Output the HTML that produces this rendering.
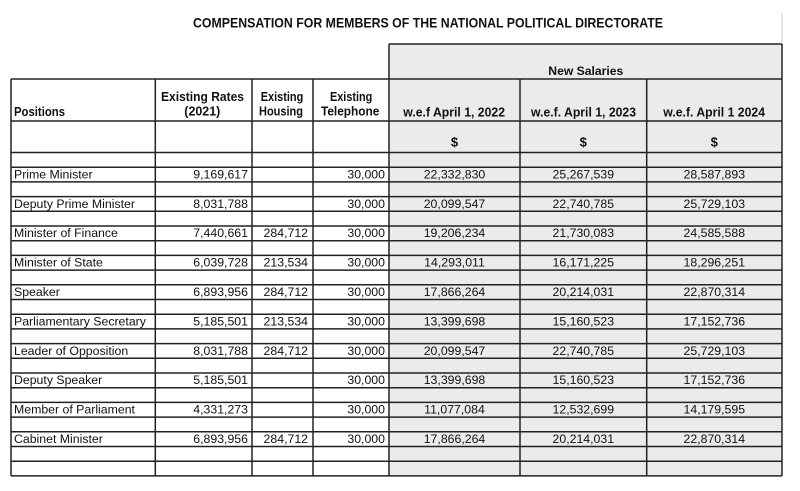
<!DOCTYPE html>
<html>
<head>
<meta charset="utf-8">
<style>
html,body{margin:0;padding:0;background:#fff;}
svg{display:block;}
.t{font-family:"Liberation Sans",Arial,sans-serif;fill:#111;}
.d{font-family:"Liberation Sans",Arial,sans-serif;font-size:12.3px;fill:#111;}
.h{font-family:"Liberation Sans",Arial,sans-serif;font-size:13px;font-weight:bold;fill:#111;}
</style>
</head>
<body>
<svg width="800" height="491" viewBox="0 0 800 491" xmlns="http://www.w3.org/2000/svg">
<rect x="0" y="0" width="800" height="491" fill="#ffffff"/>
<rect x="389" y="44" width="393" height="432" fill="#ebebeb"/>
<line x1="782" y1="13" x2="782" y2="44" stroke="#cfcfcf" stroke-width="1"/>

<text class="t" x="193" y="27.7" font-size="14" font-weight="bold" textLength="470" lengthAdjust="spacingAndGlyphs">COMPENSATION FOR MEMBERS OF THE NATIONAL POLITICAL DIRECTORATE</text>

<g stroke="#222" stroke-width="1.5" fill="none">
<line x1="389" y1="44" x2="782" y2="44"/>
<line x1="11" y1="79" x2="782" y2="79"/>
<line x1="11" y1="121" x2="782" y2="121"/>
<line x1="11" y1="152.5" x2="782" y2="152.5"/>
<line x1="11" y1="167.2" x2="782" y2="167.2"/>
<line x1="11" y1="181.9" x2="782" y2="181.9"/>
<line x1="11" y1="196.6" x2="782" y2="196.6"/>
<line x1="11" y1="211.3" x2="782" y2="211.3"/>
<line x1="11" y1="226" x2="782" y2="226"/>
<line x1="11" y1="240.7" x2="782" y2="240.7"/>
<line x1="11" y1="255.4" x2="782" y2="255.4"/>
<line x1="11" y1="270.1" x2="782" y2="270.1"/>
<line x1="11" y1="284.8" x2="782" y2="284.8"/>
<line x1="11" y1="299.5" x2="782" y2="299.5"/>
<line x1="11" y1="314.2" x2="782" y2="314.2"/>
<line x1="11" y1="328.9" x2="782" y2="328.9"/>
<line x1="11" y1="343.6" x2="782" y2="343.6"/>
<line x1="11" y1="358.3" x2="782" y2="358.3"/>
<line x1="11" y1="373" x2="782" y2="373"/>
<line x1="11" y1="387.7" x2="782" y2="387.7"/>
<line x1="11" y1="402.4" x2="782" y2="402.4"/>
<line x1="11" y1="417.1" x2="782" y2="417.1"/>
<line x1="11" y1="431.8" x2="782" y2="431.8"/>
<line x1="11" y1="446.5" x2="782" y2="446.5"/>
<line x1="11" y1="461.2" x2="782" y2="461.2"/>
<line x1="11" y1="475.9" x2="782" y2="475.9"/>
<line x1="11" y1="79" x2="11" y2="475.9"/>
<line x1="155.3" y1="79" x2="155.3" y2="475.9"/>
<line x1="252" y1="79" x2="252" y2="475.9"/>
<line x1="313" y1="79" x2="313" y2="475.9"/>
<line x1="389" y1="44" x2="389" y2="475.9"/>
<line x1="520" y1="79" x2="520" y2="475.9"/>
<line x1="646.7" y1="79" x2="646.7" y2="475.9"/>
<line x1="782" y1="44" x2="782" y2="475.9"/>
</g>

<text class="h" x="14" y="116" textLength="51" lengthAdjust="spacingAndGlyphs">Positions</text>
<text class="h" x="161" y="100.8" textLength="83" lengthAdjust="spacingAndGlyphs">Existing Rates</text>
<text class="h" x="184.3" y="115.5" textLength="36" lengthAdjust="spacingAndGlyphs">(2021)</text>
<text class="h" x="260.7" y="100.8" textLength="42.6" lengthAdjust="spacingAndGlyphs">Existing</text>
<text class="h" x="259" y="115.5" textLength="44" lengthAdjust="spacingAndGlyphs">Housing</text>
<text class="h" x="330" y="100.8" textLength="42.3" lengthAdjust="spacingAndGlyphs">Existing</text>
<text class="h" x="321" y="115.5" textLength="58.3" lengthAdjust="spacingAndGlyphs">Telephone</text>

<text class="t" x="548.3" y="75" font-size="12.4" font-weight="bold" textLength="75" lengthAdjust="spacingAndGlyphs">New Salaries</text>
<text class="h" x="403.3" y="116.5" textLength="101.7" lengthAdjust="spacingAndGlyphs">w.e.f April 1, 2022</text>
<text class="h" x="531" y="116.5" textLength="105" lengthAdjust="spacingAndGlyphs">w.e.f. April 1, 2023</text>
<text class="h" x="663.3" y="116.5" textLength="101.7" lengthAdjust="spacingAndGlyphs">w.e.f. April 1 2024</text>
<text class="h" x="454.5" y="146.5" text-anchor="middle">$</text>
<text class="h" x="583.3" y="146.5" text-anchor="middle">$</text>
<text class="h" x="714.3" y="146.5" text-anchor="middle">$</text>

<g class="d">
<text x="14" y="178.4">Prime Minister</text>
<text x="248" y="178.4" text-anchor="end">9,169,617</text>
<text x="385" y="178.4" text-anchor="end">30,000</text>
<text x="454.5" y="178.4" text-anchor="middle">22,332,830</text>
<text x="583.3" y="178.4" text-anchor="middle">25,267,539</text>
<text x="714.3" y="178.4" text-anchor="middle">28,587,893</text>

<text x="14" y="207.8">Deputy Prime Minister</text>
<text x="248" y="207.8" text-anchor="end">8,031,788</text>
<text x="385" y="207.8" text-anchor="end">30,000</text>
<text x="454.5" y="207.8" text-anchor="middle">20,099,547</text>
<text x="583.3" y="207.8" text-anchor="middle">22,740,785</text>
<text x="714.3" y="207.8" text-anchor="middle">25,729,103</text>

<text x="14" y="237.2">Minister of Finance</text>
<text x="248" y="237.2" text-anchor="end">7,440,661</text>
<text x="308" y="237.2" text-anchor="end">284,712</text>
<text x="385" y="237.2" text-anchor="end">30,000</text>
<text x="454.5" y="237.2" text-anchor="middle">19,206,234</text>
<text x="583.3" y="237.2" text-anchor="middle">21,730,083</text>
<text x="714.3" y="237.2" text-anchor="middle">24,585,588</text>

<text x="14" y="266.6">Minister of State</text>
<text x="248" y="266.6" text-anchor="end">6,039,728</text>
<text x="308" y="266.6" text-anchor="end">213,534</text>
<text x="385" y="266.6" text-anchor="end">30,000</text>
<text x="454.5" y="266.6" text-anchor="middle">14,293,011</text>
<text x="583.3" y="266.6" text-anchor="middle">16,171,225</text>
<text x="714.3" y="266.6" text-anchor="middle">18,296,251</text>

<text x="14" y="296">Speaker</text>
<text x="248" y="296" text-anchor="end">6,893,956</text>
<text x="308" y="296" text-anchor="end">284,712</text>
<text x="385" y="296" text-anchor="end">30,000</text>
<text x="454.5" y="296" text-anchor="middle">17,866,264</text>
<text x="583.3" y="296" text-anchor="middle">20,214,031</text>
<text x="714.3" y="296" text-anchor="middle">22,870,314</text>

<text x="14" y="325.4">Parliamentary Secretary</text>
<text x="248" y="325.4" text-anchor="end">5,185,501</text>
<text x="308" y="325.4" text-anchor="end">213,534</text>
<text x="385" y="325.4" text-anchor="end">30,000</text>
<text x="454.5" y="325.4" text-anchor="middle">13,399,698</text>
<text x="583.3" y="325.4" text-anchor="middle">15,160,523</text>
<text x="714.3" y="325.4" text-anchor="middle">17,152,736</text>

<text x="14" y="354.8">Leader of Opposition</text>
<text x="248" y="354.8" text-anchor="end">8,031,788</text>
<text x="308" y="354.8" text-anchor="end">284,712</text>
<text x="385" y="354.8" text-anchor="end">30,000</text>
<text x="454.5" y="354.8" text-anchor="middle">20,099,547</text>
<text x="583.3" y="354.8" text-anchor="middle">22,740,785</text>
<text x="714.3" y="354.8" text-anchor="middle">25,729,103</text>

<text x="14" y="384.2">Deputy Speaker</text>
<text x="248" y="384.2" text-anchor="end">5,185,501</text>
<text x="385" y="384.2" text-anchor="end">30,000</text>
<text x="454.5" y="384.2" text-anchor="middle">13,399,698</text>
<text x="583.3" y="384.2" text-anchor="middle">15,160,523</text>
<text x="714.3" y="384.2" text-anchor="middle">17,152,736</text>

<text x="14" y="413.6">Member of Parliament</text>
<text x="248" y="413.6" text-anchor="end">4,331,273</text>
<text x="385" y="413.6" text-anchor="end">30,000</text>
<text x="454.5" y="413.6" text-anchor="middle">11,077,084</text>
<text x="583.3" y="413.6" text-anchor="middle">12,532,699</text>
<text x="714.3" y="413.6" text-anchor="middle">14,179,595</text>

<text x="14" y="443">Cabinet Minister</text>
<text x="248" y="443" text-anchor="end">6,893,956</text>
<text x="308" y="443" text-anchor="end">284,712</text>
<text x="385" y="443" text-anchor="end">30,000</text>
<text x="454.5" y="443" text-anchor="middle">17,866,264</text>
<text x="583.3" y="443" text-anchor="middle">20,214,031</text>
<text x="714.3" y="443" text-anchor="middle">22,870,314</text>
</g>
</svg>
</body>
</html>
